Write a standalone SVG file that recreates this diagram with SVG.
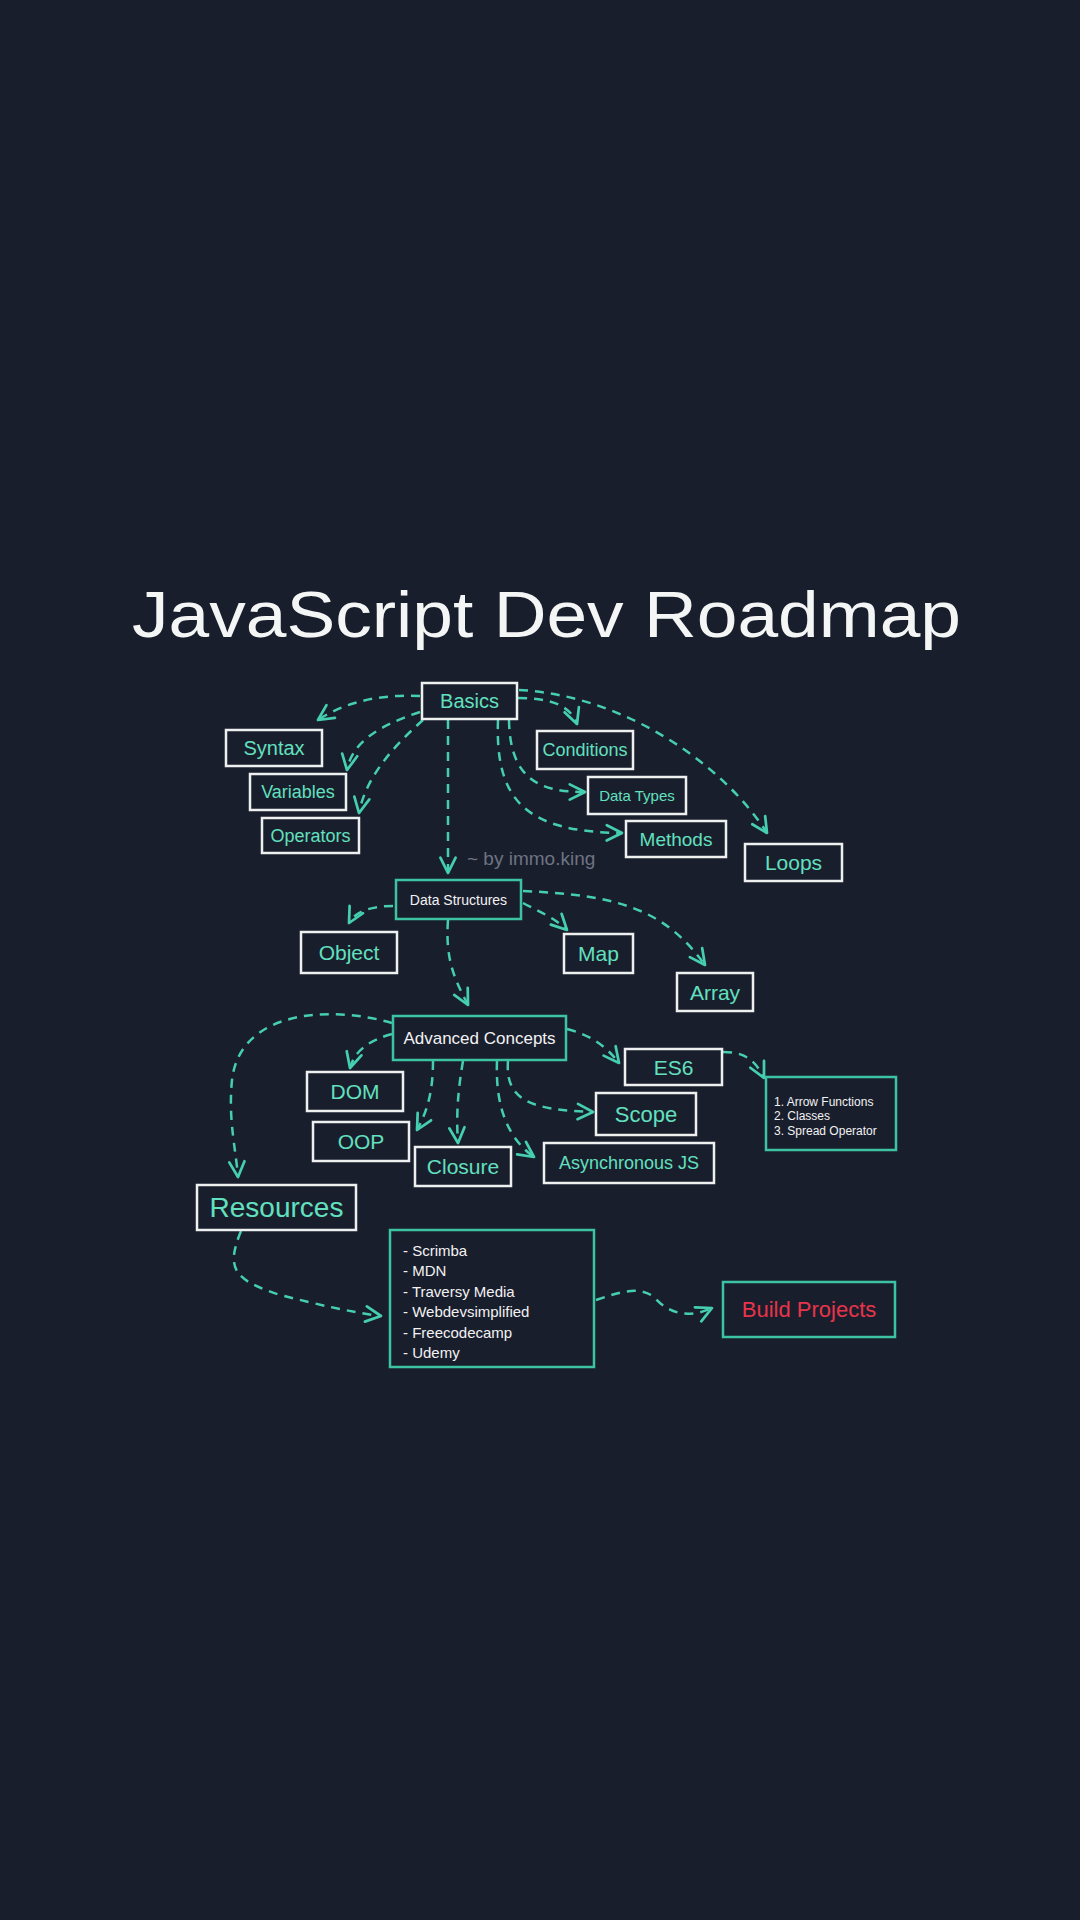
<svg xmlns="http://www.w3.org/2000/svg" width="1080" height="1920" viewBox="0 0 1080 1920">
<defs>
<style>
.bw{fill:#191e2d;stroke:#eef0f0;stroke-width:2.5}
.bt{fill:#191e2d;stroke:#3cc4a2;stroke-width:2.5}
.tt{font-family:"Liberation Sans","DejaVu Sans",sans-serif;fill:#62e0bf;text-anchor:middle;dominant-baseline:central}
.tw{font-family:"Liberation Sans","DejaVu Sans",sans-serif;fill:#f2f2f2;text-anchor:middle;dominant-baseline:central}
.tl{font-family:"Liberation Sans","DejaVu Sans",sans-serif;fill:#f2f2f2}
.c{fill:none;stroke:#45cfae;stroke-width:2.5;stroke-dasharray:9 7;marker-end:url(#ah)}
</style>
<marker id="ah" markerUnits="userSpaceOnUse" markerWidth="24" markerHeight="24" refX="0" refY="0" viewBox="-16 -11 18 22" orient="auto">
<path d="M -14 -7 L 0 0 L -14 7" fill="none" stroke="#45cfae" stroke-width="2.5" stroke-linecap="round" stroke-linejoin="round"/>
</marker>
</defs>
<rect width="1080" height="1920" fill="#191e2d"/>
<text x="132" y="637" textLength="829" lengthAdjust="spacingAndGlyphs" font-family="Liberation Sans, DejaVu Sans, sans-serif" font-size="64" fill="#f4f6f6">JavaScript Dev Roadmap</text>
<text x="467" y="865" font-family="Liberation Sans, DejaVu Sans, sans-serif" font-size="19" fill="#6e7382">~ by immo.king</text>

<g id="connectors">
<path class="c" d="M 420 696 C 380 694 345 702 318 720"/>
<path class="c" d="M 420 712 C 380 725 352 742 347 770"/>
<path class="c" d="M 423 720 C 395 745 366 776 359 813"/>
<path class="c" d="M 448 720 L 448 873"/>
<path class="c" d="M 498 720 C 495 800 525 832 622 833"/>
<path class="c" d="M 509 720 C 510 780 540 792 585 792"/>
<path class="c" d="M 518 698 C 550 698 570 705 577 724"/>
<path class="c" d="M 519 690 C 620 695 720 760 767 833"/>
<path class="c" d="M 393 906 C 370 906 355 912 349 923"/>
<path class="c" d="M 523 903 C 540 912 555 918 567 930"/>
<path class="c" d="M 523 891 C 620 895 665 910 705 965"/>
<path class="c" d="M 448 920 C 445 960 455 980 468 1005"/>
<path class="c" d="M 392 1023 C 330 1005 240 1010 232 1080 C 228 1120 236 1150 238 1177"/>
<path class="c" d="M 392 1034 C 370 1040 355 1050 350 1068"/>
<path class="c" d="M 433 1061 C 433 1090 428 1110 417 1130"/>
<path class="c" d="M 463 1061 C 458 1090 456 1115 458 1143"/>
<path class="c" d="M 497 1061 C 495 1110 510 1140 534 1157"/>
<path class="c" d="M 508 1061 C 505 1100 530 1110 593 1112"/>
<path class="c" d="M 567 1029 C 590 1035 605 1045 619 1063"/>
<path class="c" d="M 723 1052 C 745 1052 755 1060 764 1078"/>
<path class="c" d="M 241 1231 C 225 1270 235 1280 280 1295 C 320 1305 350 1312 381 1316"/>
<path class="c" d="M 596 1300 C 620 1292 640 1285 655 1298 C 670 1315 690 1318 712 1308"/>
</g>

<g id="basics"><rect class="bw" x="422" y="683" width="95" height="36"/><text class="tt" x="469.5" y="701" font-size="20">Basics</text></g>
<g id="syntax"><rect class="bw" x="226" y="730" width="96" height="36"/><text class="tt" x="274" y="748" font-size="20">Syntax</text></g>
<g id="variables"><rect class="bw" x="250" y="774" width="96" height="36"/><text class="tt" x="298" y="792" font-size="18">Variables</text></g>
<g id="operators"><rect class="bw" x="262" y="818" width="97" height="35"/><text class="tt" x="310.5" y="835.5" font-size="18">Operators</text></g>
<g id="conditions"><rect class="bw" x="537" y="731" width="96" height="38"/><text class="tt" x="585" y="750" font-size="18">Conditions</text></g>
<g id="datatypes"><rect class="bw" x="588" y="777" width="98" height="37"/><text class="tt" x="637" y="795.5" font-size="15">Data Types</text></g>
<g id="methods"><rect class="bw" x="626" y="821" width="100" height="36"/><text class="tt" x="676" y="839" font-size="19">Methods</text></g>
<g id="loops"><rect class="bw" x="745" y="844" width="97" height="37"/><text class="tt" x="793.5" y="862.5" font-size="21">Loops</text></g>

<g id="datastructures"><rect class="bt" x="396" y="880" width="125" height="39"/><text class="tw" x="458.5" y="899.5" font-size="14">Data Structures</text></g>
<g id="object"><rect class="bw" x="301" y="932" width="96" height="41"/><text class="tt" x="349" y="952.5" font-size="21">Object</text></g>
<g id="map"><rect class="bw" x="564" y="934" width="69" height="39"/><text class="tt" x="598.5" y="953.5" font-size="21">Map</text></g>
<g id="array"><rect class="bw" x="677" y="973" width="76" height="38"/><text class="tt" x="715" y="992" font-size="21">Array</text></g>

<g id="advanced"><rect class="bt" x="393" y="1016" width="173" height="44"/><text class="tw" x="479.5" y="1038" font-size="17">Advanced Concepts</text></g>
<g id="dom"><rect class="bw" x="307" y="1072" width="96" height="39"/><text class="tt" x="355" y="1091.5" font-size="21">DOM</text></g>
<g id="oop"><rect class="bw" x="313" y="1122" width="96" height="39"/><text class="tt" x="361" y="1141.5" font-size="21">OOP</text></g>
<g id="closure"><rect class="bw" x="415" y="1147" width="96" height="39"/><text class="tt" x="463" y="1166.5" font-size="21">Closure</text></g>
<g id="es6"><rect class="bw" x="625" y="1049" width="97" height="36"/><text class="tt" x="673.5" y="1067" font-size="21">ES6</text></g>
<g id="scope"><rect class="bw" x="596" y="1093" width="100" height="42"/><text class="tt" x="646" y="1114" font-size="22">Scope</text></g>
<g id="async"><rect class="bw" x="544" y="1143" width="170" height="40"/><text class="tt" x="629" y="1163" font-size="18">Asynchronous JS</text></g>
<g id="es6list"><rect class="bt" x="766" y="1077" width="130" height="73"/>
<text class="tl" x="774" y="1106" font-size="12">1. Arrow Functions</text>
<text class="tl" x="774" y="1120" font-size="12">2. Classes</text>
<text class="tl" x="774" y="1135" font-size="12">3. Spread Operator</text></g>

<g id="resources"><rect class="bw" x="197" y="1185" width="159" height="45"/><text class="tt" x="276.5" y="1207.5" font-size="28">Resources</text></g>
<g id="reslist"><rect class="bt" x="390" y="1230" width="204" height="137"/>
<text class="tl" x="403" y="1256" font-size="15">-  Scrimba</text>
<text class="tl" x="403" y="1276" font-size="15">-  MDN</text>
<text class="tl" x="403" y="1297" font-size="15">-  Traversy Media</text>
<text class="tl" x="403" y="1317" font-size="15">-  Webdevsimplified</text>
<text class="tl" x="403" y="1338" font-size="15">-  Freecodecamp</text>
<text class="tl" x="403" y="1358" font-size="15">-  Udemy</text></g>
<g id="build"><rect class="bt" x="723" y="1282" width="172" height="55"/><text x="809" y="1309.5" font-family="Liberation Sans, DejaVu Sans, sans-serif" font-size="22" fill="#e8344a" text-anchor="middle" dominant-baseline="central">Build Projects</text></g>
</svg>
